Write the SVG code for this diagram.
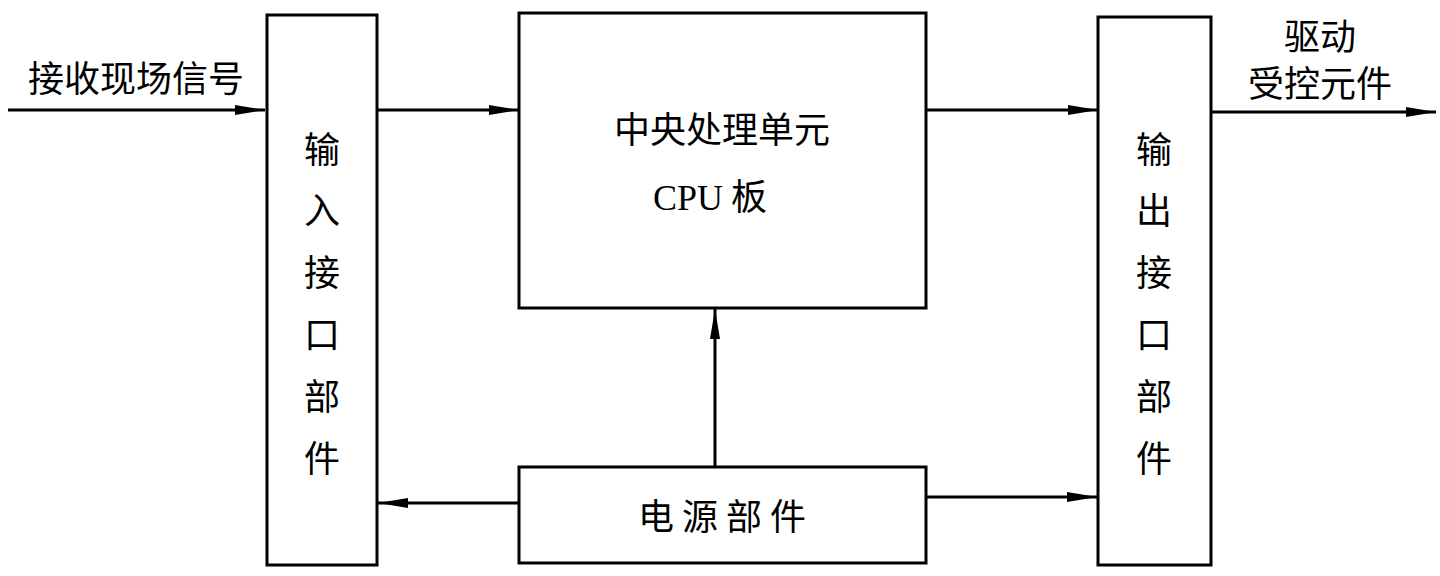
<svg xmlns="http://www.w3.org/2000/svg" width="1440" height="576" viewBox="0 0 1440 576">
<style>
rect{fill:#fff;stroke:#000;stroke-width:3}
line{stroke:#000;stroke-width:3}
text{font-family:"Noto Sans CJK SC","Liberation Serif",serif;font-size:36px;fill:#000;text-anchor:middle}
.c{font-family:"Liberation Serif","Noto Sans CJK SC",serif}
</style>
<defs><marker id="a" markerWidth="30" markerHeight="10" refX="30" refY="5" orient="auto" markerUnits="userSpaceOnUse"><path d="M0,0 L30,5 L0,10 Z" fill="#000"/></marker></defs>
<rect fill="#fff" style="stroke:none" x="0" y="0" width="1440" height="576"/>
<g id="connectors">
<line x1="8" y1="110" x2="265" y2="110" marker-end="url(#a)"/>
<line x1="377" y1="110" x2="519" y2="110" marker-end="url(#a)"/>
<line x1="926" y1="110" x2="1098" y2="110" marker-end="url(#a)"/>
<line x1="1211" y1="112" x2="1436" y2="112" marker-end="url(#a)"/>
<line x1="715" y1="467" x2="715" y2="309" marker-end="url(#a)"/>
<line x1="519" y1="503" x2="378" y2="503" marker-end="url(#a)"/>
<line x1="926" y1="497" x2="1097" y2="497" marker-end="url(#a)"/>
</g>
<g id="labels">
<text x="136" y="92">接收现场信号</text>
<text x="1320" y="50">驱动</text>
<text x="1320" y="97">受控元件</text>
</g>
<g id="input"><rect x="267" y="15" width="110" height="550"/>
<text x="322" y="163">输</text><text x="322" y="224">入</text><text x="322" y="286">接</text><text x="322" y="348">口</text><text x="322" y="410">部</text><text x="322" y="472">件</text></g>
<g id="cpu"><rect x="519" y="13" width="407" height="295"/>
<text x="722" y="143">中央处理单元</text><text x="710" y="210"><tspan class="c">CPU</tspan> 板</text></g>
<g id="output"><rect x="1098" y="17" width="113" height="548"/>
<text x="1154" y="163">输</text><text x="1154" y="224">出</text><text x="1154" y="286">接</text><text x="1154" y="348">口</text><text x="1154" y="410">部</text><text x="1154" y="472">件</text></g>
<g id="power"><rect x="519" y="467" width="407" height="96"/>
<text x="722" y="530">电 源 部 件</text></g>
</svg>
